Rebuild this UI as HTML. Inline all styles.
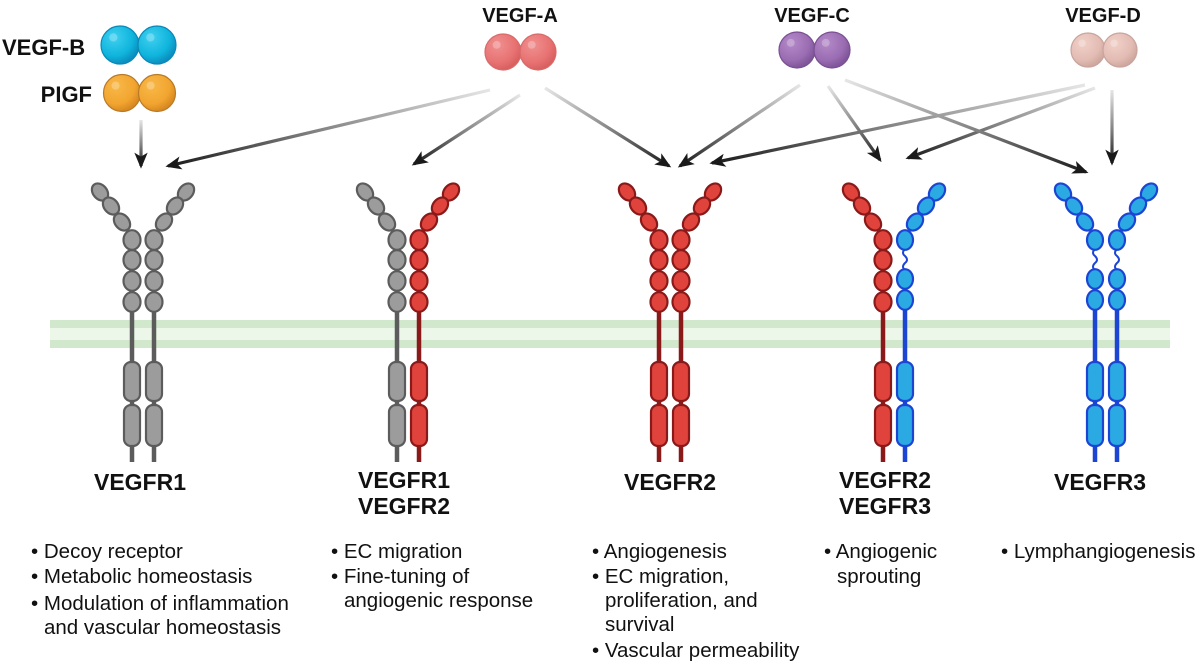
<!DOCTYPE html>
<html><head><meta charset="utf-8"><style>
html,body{margin:0;padding:0;background:#fff;}
svg{display:block;font-family:"Liberation Sans",Arial,sans-serif;}
.lb{font-weight:bold;font-size:20px;fill:#111;}
.lb2{font-weight:bold;font-size:22px;fill:#111;}
.rl{font-weight:bold;font-size:23px;fill:#111;}
.bt{font-size:20.5px;fill:#111;}
</style></head><body>
<svg id="s" width="1200" height="662" viewBox="0 0 1200 662" xmlns="http://www.w3.org/2000/svg">
<defs>
<radialGradient id="gB" cx="35%" cy="30%" r="70%"><stop offset="0" stop-color="#3fd0f0"/><stop offset="0.7" stop-color="#0fb4dc"/><stop offset="1" stop-color="#0b8fc0"/></radialGradient>
<radialGradient id="gP" cx="35%" cy="30%" r="70%"><stop offset="0" stop-color="#f8b848"/><stop offset="0.7" stop-color="#f2a530"/><stop offset="1" stop-color="#d88a20"/></radialGradient>
<radialGradient id="gA" cx="35%" cy="30%" r="70%"><stop offset="0" stop-color="#f09090"/><stop offset="0.7" stop-color="#e87272"/><stop offset="1" stop-color="#d86060"/></radialGradient>
<radialGradient id="gC" cx="35%" cy="30%" r="70%"><stop offset="0" stop-color="#b48ac8"/><stop offset="0.7" stop-color="#9a6cb2"/><stop offset="1" stop-color="#80559a"/></radialGradient>
<radialGradient id="gD" cx="35%" cy="30%" r="70%"><stop offset="0" stop-color="#f0d0c8"/><stop offset="0.7" stop-color="#e3bcb4"/><stop offset="1" stop-color="#cfa8a0"/></radialGradient>
<marker id="ah" viewBox="0 0 12 10" refX="10" refY="5" markerWidth="5" markerHeight="5" orient="auto" markerUnits="strokeWidth"><path d="M0,0 L12,5 L0,10 L3,5 Z" fill="#1a1a1a"/></marker>
</defs>
<rect x="50" y="320" width="1120" height="28" fill="#d2e8cc"/>
<rect x="50" y="328" width="1120" height="12" fill="#ecf6e9"/>
<g id="arrows"></g>
<g id="recs"></g>
<g id="lig"></g>
<text class="lb2" x="2" y="55">VEGF-B</text>
<text class="lb2" x="92" y="102" text-anchor="end">PIGF</text>
<text class="lb" x="520" y="22" text-anchor="middle">VEGF-A</text>
<text class="lb" x="812" y="22" text-anchor="middle">VEGF-C</text>
<text class="lb" x="1103" y="22" text-anchor="middle">VEGF-D</text>
<text class="rl" x="140" y="490" text-anchor="middle">VEGFR1</text>
<text class="rl" x="404" y="488" text-anchor="middle">VEGFR1</text>
<text class="rl" x="404" y="514" text-anchor="middle">VEGFR2</text>
<text class="rl" x="670" y="490" text-anchor="middle">VEGFR2</text>
<text class="rl" x="885" y="488" text-anchor="middle">VEGFR2</text>
<text class="rl" x="885" y="514" text-anchor="middle">VEGFR3</text>
<text class="rl" x="1100" y="490" text-anchor="middle">VEGFR3</text>
<g class="bt">
<text x="31" y="558">• Decoy receptor</text>
<text x="31" y="583">• Metabolic homeostasis</text>
<text x="31" y="610">• Modulation of inflammation</text>
<text x="44" y="634">and vascular homeostasis</text>
<text x="331" y="558">• EC migration</text>
<text x="331" y="583">• Fine-tuning of</text>
<text x="344" y="607">angiogenic response</text>
<text x="592" y="558">• Angiogenesis</text>
<text x="592" y="583">• EC migration,</text>
<text x="605" y="607">proliferation, and</text>
<text x="605" y="631">survival</text>
<text x="592" y="657">• Vascular permeability</text>
<text x="824" y="558">• Angiogenic</text>
<text x="837" y="583">sprouting</text>
<text x="1001" y="558">• Lymphangiogenesis</text>
</g>
</svg>
<script>
(function(){
var NS="http://www.w3.org/2000/svg";
function el(p,n,a){var e=document.createElementNS(NS,n);for(var k in a)e.setAttribute(k,a[k]);p.appendChild(e);return e;}
var defs=document.querySelector("defs");
var A=document.getElementById("arrows");
var arr=[[141,120,141,166],[490,90,168,166],[520,95,414,164],[545,88,669,166],
[800,85,680,166],[1085,85,712,163],[828,86,880,160],[1095,88,908,158],[845,80,1086,172],[1112,90,1112,163]];
arr.forEach(function(a,i){
 var g=el(defs,"linearGradient",{id:"lg"+i,gradientUnits:"userSpaceOnUse",x1:a[0],y1:a[1],x2:a[2],y2:a[3]});
 el(g,"stop",{offset:"0","stop-color":"#e6e6e6"});
 el(g,"stop",{offset:"0.55","stop-color":"#808080"});
 el(g,"stop",{offset:"1","stop-color":"#1a1a1a"});
 el(A,"line",{x1:a[0],y1:a[1],x2:a[2],y2:a[3],stroke:"url(#lg"+i+")","stroke-width":"3.2","marker-end":"url(#ah)"});
});
var R=document.getElementById("recs");
var C={g:["#9c9c9c","#5c5c5c","#5c5c5c"],r:["#e0433b","#8a1a1a","#8a1a1a"],b:["#2aa9e2","#1c45d4","#1c45d4"]};
function chain(x,side,t){
 var c=C[t];var sw=2.2;
 el(R,"line",{x1:x,y1:300,x2:x,y2:462,stroke:c[2],"stroke-width":4.5});
 [[362,401],[405,446]].forEach(function(b){el(R,"rect",{x:x-8,y:b[0],width:16,height:b[1]-b[0],rx:7,fill:c[0],stroke:c[1],"stroke-width":sw});});
 var d=[[32,192],[21,206],[10,222]];
 d.forEach(function(p){var cx=x+side*p[0];el(R,"ellipse",{cx:cx,cy:p[1],rx:9.5,ry:7,transform:"rotate("+(side<0?50:-50)+" "+cx+" "+p[1]+")",fill:c[0],stroke:c[1],"stroke-width":sw});});
 var ys=t==="b"?[240,279,300]:[240,260,281,302];
 if(t==="b"){
   el(R,"path",{d:"M"+x+",249 q-4,4 0,7 q4,4 0,7 q-4,4 0,7",fill:"none",stroke:c[1],"stroke-width":2});
 }
 ys.forEach(function(y){el(R,"ellipse",{cx:x,cy:y,rx:t==="b"?8:8.5,ry:9.8,fill:c[0],stroke:c[1],"stroke-width":sw});});
}
chain(132,-1,"g");chain(154,1,"g");
chain(397,-1,"g");chain(419,1,"r");
chain(659,-1,"r");chain(681,1,"r");
chain(883,-1,"r");chain(905,1,"b");
chain(1095,-1,"b");chain(1117,1,"b");
var L=document.getElementById("lig");
function dimer(x1,x2,y,r,g,st){
 [x1,x2].forEach(function(x){el(L,"circle",{cx:x,cy:y,r:r,fill:"url(#"+g+")",stroke:st,"stroke-width":1.2});
 el(L,"circle",{cx:x-r*0.35,cy:y-r*0.4,r:r*0.22,fill:"#fff",opacity:0.25});});
}
dimer(120,157,45,19,"gB","#0a88b8");
dimer(122,157,93,18.5,"gP","#b87a28");
dimer(503,538,52,18,"gA","#d86a6a");
dimer(797,832,50,18,"gC","#7a4f92");
dimer(1088,1120,50,17,"gD","#c8a49c");
})();
</script>
</body></html>
